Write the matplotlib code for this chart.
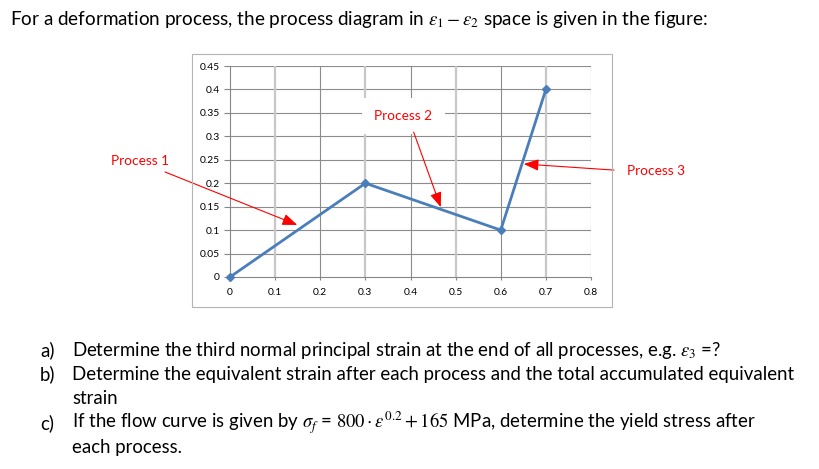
import matplotlib
matplotlib.use("Agg")
import matplotlib.pyplot as plt
from matplotlib.patches import Rectangle

plt.rcParams['font.family'] = ['Lato', 'DejaVu Sans']
plt.rcParams['mathtext.fontset'] = 'stix'

# process path in eps1 - eps2 space
eps1 = [0, 0.3, 0.6, 0.7]
eps2 = [0, 0.2, 0.1, 0.4]
xticks = [0, 0.1, 0.2, 0.3, 0.4, 0.5, 0.6, 0.7, 0.8]
yticks = [0, 0.05, 0.1, 0.15, 0.2, 0.25, 0.3, 0.35, 0.4, 0.45]
xlabels = ['0', '0.1', '0.2', '0.3', '0.4', '0.5', '0.6', '0.7', '0.8']
ylabels = ['0', '0.05', '0.1', '0.15', '0.2', '0.25', '0.3', '0.35', '0.4', '0.45']

# annotation labels: text, label pos, arrow tail, arrow tip (data units)
labels = ['Process 1', 'Process 2', 'Process 3']
label_pos = [(-0.2, 0.247), (0.384, 0.343), (0.944, 0.226)]
arrow_tail = [(-0.144, 0.224), (0.407, 0.309), (0.851, 0.228)]
arrow_tip = [(0.149, 0.111), (0.467, 0.149), (0.651, 0.241)]

W, H = 819, 469
fig = plt.figure(figsize=(W / 100, H / 100), dpi=100)

def px(x, y):
    return x / W, 1 - y / H

# chart frame
x0, y0 = px(192, 307)
fig.patches.append(Rectangle((x0, y0), 420 / W, 253 / H, transform=fig.transFigure,
                             fill=False, edgecolor='#b4b4b4', linewidth=0.8))

l, b = px(230, 277)
ax = fig.add_axes([l, b, 361 / W, 211 / H])
ax.set_xlim(0, 0.8)
ax.set_ylim(0, 0.45)
ax.set_xticks(xticks)
ax.set_xticklabels(xlabels)
ax.set_yticks(yticks)
ax.set_yticklabels(ylabels)
ax.tick_params(axis='both', labelsize=7.4, colors='#868686', labelcolor='black')
ax.tick_params(axis='y', length=4.3, width=0.8, pad=3)
ax.tick_params(axis='x', length=2, width=0.8, pad=6)

for s in ['top', 'right']:
    ax.spines[s].set_visible(False)
for s in ['left', 'bottom']:
    ax.spines[s].set_color('#868686')
    ax.spines[s].set_linewidth(0.8)

# gridlines
for v in yticks[1:]:
    ax.axhline(v, color='#8c8c8c', linewidth=0.8, zorder=1)
for i, v in enumerate(xticks[1:]):
    if i % 2 == 0:
        ax.axvline(v, color='#c8c8c8', linewidth=1.6, zorder=1)
    else:
        ax.axvline(v, color='#8c8c8c', linewidth=0.8, zorder=1)

ax.plot(eps1, eps2, color='#4a7ebb', linewidth=2.0, marker='D', markersize=4,
        zorder=3, clip_on=False)

for i, lab in enumerate(labels):
    ax.annotate('', xy=arrow_tip[i], xytext=arrow_tail[i], annotation_clip=False,
                arrowprops=dict(arrowstyle='-|>,head_length=0.9,head_width=0.35',
                                color='#ff0000', linewidth=0.8,
                                shrinkA=0, shrinkB=0), zorder=5)
    bbox = None
    if i == 1:
        bbox = dict(boxstyle='square,pad=0.9', facecolor='white', edgecolor='none')
    ax.text(label_pos[i][0], label_pos[i][1], lab, color='#ff0000', fontsize=9.8,
            ha='center', va='center', clip_on=False, bbox=bbox, zorder=4)

# question text
fig.text(10 / W, 1 - 19 / H,
         r'For a deformation process, the process diagram in $\varepsilon_1 - \varepsilon_2$ space is given in the figure:',
         fontsize=13.6, va='center', ha='left')

fs = 13.45
lines = [
    ('a)', r'Determine the third normal principal strain at the end of all processes, e.g. $\varepsilon_3$ =?', 350),
    ('b)', 'Determine the equivalent strain after each process and the total accumulated equivalent', 374),
    ('', 'strain', 398),
    ('c)', r'If the flow curve is given by $\sigma_f$ = $800 \cdot \varepsilon^{0.2} + 165$ MPa, determine the yield stress after', 423),
    ('', 'each process.', 447),
]
for tag, txt, yy in lines:
    if tag:
        fig.text(40 / W, 1 - yy / H, tag, fontsize=fs, va='center', ha='left')
    fig.text(72 / W, 1 - yy / H, txt, fontsize=fs, va='center', ha='left')

fig.savefig('out.png', dpi=100)
